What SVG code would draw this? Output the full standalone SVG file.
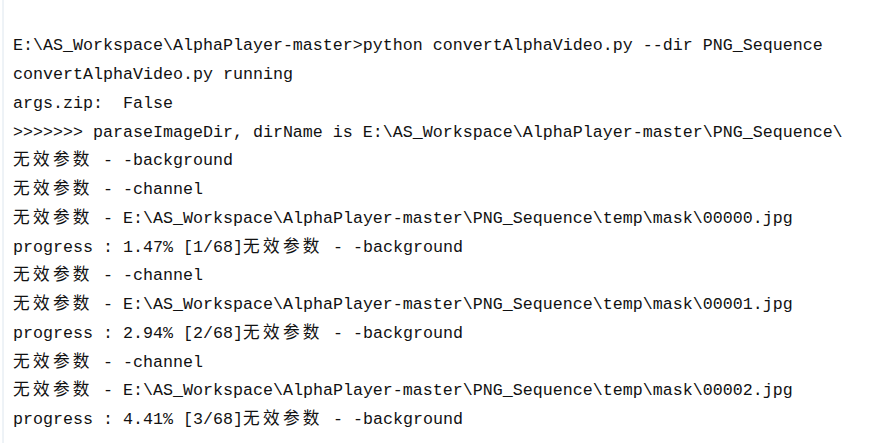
<svg xmlns="http://www.w3.org/2000/svg" width="887" height="443" viewBox="0 0 887 443">
<style>
text{font-family:"Liberation Mono","Noto Sans CJK SC",monospace;font-size:16.67px;fill:#111;white-space:pre}
.c{letter-spacing:3.3px}
</style>
<rect width="887" height="443" fill="#fff"/>
<line x1="3" y1="0" x2="3" y2="443" stroke="#dde6ee" stroke-width="1"/>
<g xml:space="preserve">
<text x="13" y="50">E:\AS_Workspace\AlphaPlayer-master&gt;python convertAlphaVideo.py --dir PNG_Sequence</text>
<text x="13" y="79">convertAlphaVideo.py running</text>
<text x="13" y="108">args.zip:  False</text>
<text x="13" y="137">&gt;&gt;&gt;&gt;&gt;&gt;&gt; paraseImageDir, dirName is E:\AS_Workspace\AlphaPlayer-master\PNG_Sequence\</text>
<text x="13" y="165"><tspan class="c">无效参数</tspan><tspan x="93"> - -background</tspan></text>
<text x="13" y="194"><tspan class="c">无效参数</tspan><tspan x="93"> - -channel</tspan></text>
<text x="13" y="223"><tspan class="c">无效参数</tspan><tspan x="93"> - E:\AS_Workspace\AlphaPlayer-master\PNG_Sequence\temp\mask\00000.jpg</tspan></text>
<text x="13" y="252">progress : 1.47% [1/68]<tspan class="c" x="243">无效参数</tspan><tspan x="323"> - -background</tspan></text>
<text x="13" y="280"><tspan class="c">无效参数</tspan><tspan x="93"> - -channel</tspan></text>
<text x="13" y="309"><tspan class="c">无效参数</tspan><tspan x="93"> - E:\AS_Workspace\AlphaPlayer-master\PNG_Sequence\temp\mask\00001.jpg</tspan></text>
<text x="13" y="338">progress : 2.94% [2/68]<tspan class="c" x="243">无效参数</tspan><tspan x="323"> - -background</tspan></text>
<text x="13" y="367"><tspan class="c">无效参数</tspan><tspan x="93"> - -channel</tspan></text>
<text x="13" y="395"><tspan class="c">无效参数</tspan><tspan x="93"> - E:\AS_Workspace\AlphaPlayer-master\PNG_Sequence\temp\mask\00002.jpg</tspan></text>
<text x="13" y="424">progress : 4.41% [3/68]<tspan class="c" x="243">无效参数</tspan><tspan x="323"> - -background</tspan></text>
</g>
</svg>
